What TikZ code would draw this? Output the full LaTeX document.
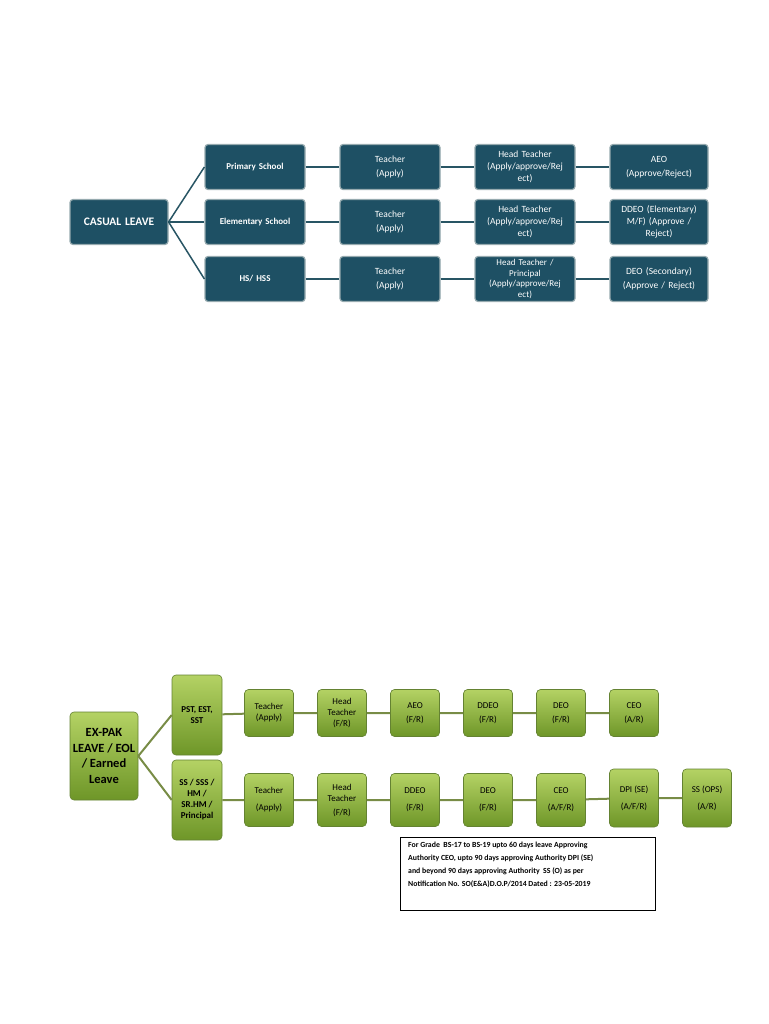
\documentclass[tikz,border=0pt]{standalone}
\usepackage{fontspec}
\setmainfont{Carlito}
\definecolor{tealfill}{RGB}{30,80,100}
\definecolor{tealedge}{RGB}{150,170,175}
\definecolor{tealline}{RGB}{40,85,100}
\definecolor{gtop}{RGB}{180,210,100}
\definecolor{gbot}{RGB}{110,150,40}
\definecolor{gedge}{RGB}{100,130,50}
\definecolor{gline}{RGB}{120,140,70}
\begin{document}
\begin{tikzpicture}[x=1pt,y=-1pt,
  tbox/.style={draw=tealedge,line width=1.2pt,fill=tealfill,rounded corners=3pt,minimum width=100pt,minimum height=45pt,align=center,text=white,font=\fontsize{9.5}{12}\selectfont,inner sep=1pt,text width=96pt},
  gbox/.style={draw=gedge,line width=0.6pt,top color=gtop,bottom color=gbot,rounded corners=4pt,align=center,text=black,font=\bfseries\fontsize{9}{11}\selectfont,inner sep=1pt},
  tline/.style={draw=tealline,line width=1.5pt},
  gln/.style={draw=gline,line width=2pt}]
\useasboundingbox (0,0) rectangle (768,1024);
% top
\node[tbox,minimum width=98pt,text width=96pt,font=\bfseries\fontsize{11.5}{13}\selectfont] (cl) at (119,222) {CASUAL LEAVE};
\node[tbox,font=\bfseries\fontsize{9}{11}\selectfont] (p1) at (255,167) {Primary School};
\node[tbox,font=\bfseries\fontsize{9}{11}\selectfont] (p2) at (255,222) {Elementary School};
\node[tbox,font=\bfseries\fontsize{9}{11}\selectfont] (p3) at (255,279) {HS/ HSS};
\foreach \r/\y in {1/167,2/222,3/279}{
  \node[tbox] (t\r) at (390,\y) {Teacher\\[2pt](Apply)};
}
\node[tbox] (h1) at (525,167) {Head Teacher\\(Apply/approve/Rej\\ect)};
\node[tbox] (h2) at (525,222) {Head Teacher\\(Apply/approve/Rej\\ect)};
\node[tbox,font=\fontsize{9}{10.5}\selectfont] (h3) at (525,279) {Head Teacher /\\Principal\\(Apply/approve/Rej\\ect)};
\node[tbox,minimum width=98pt,text width=94pt] (a1) at (659,167) {AEO\\[2pt](Approve/Reject)};
\node[tbox,minimum width=98pt,text width=94pt] (a2) at (659,222) {DDEO (Elementary)\\M/F) (Approve /\\Reject)};
\node[tbox,minimum width=98pt,text width=94pt] (a3) at (659,279) {DEO (Secondary)\\[2pt](Approve / Reject)};
\foreach \r in {1,2,3}{
  \draw[tline] (cl.east) -- (p\r.west);
  \draw[tline] (p\r) -- (t\r);
  \draw[tline] (t\r) -- (h\r);
  \draw[tline] (h\r) -- (a\r);
}
% bottom
\node[gbox,minimum width=68pt,minimum height=88pt,font=\bfseries\fontsize{12.5}{15.5}\selectfont] (ex) at (104,756) {EX-PAK\\LEAVE / EOL\\/ Earned\\Leave};
\node[gbox,minimum width=50pt,minimum height=80pt] (g1) at (197,715) {PST, EST,\\SST};
\node[gbox,minimum width=50pt,minimum height=80pt] (g2) at (197,800) {SS / SSS /\\HM /\\SR.HM /\\Principal};
\tikzset{cb/.style={gbox,minimum width=49pt,minimum height=47pt,font=\fontsize{9}{11}\selectfont}}
\node[cb] (r1a) at (269,713) {Teacher\\(Apply)};
\node[cb] (r1b) at (342,713) {Head\\Teacher\\(F/R)};
\node[cb] (r1c) at (415,713) {AEO\\[3pt](F/R)};
\node[cb] (r1d) at (488,713) {DDEO\\[3pt](F/R)};
\node[cb] (r1e) at (561,713) {DEO\\[3pt](F/R)};
\node[cb] (r1f) at (634,713) {CEO\\[3pt](A/R)};
\tikzset{cc/.style={cb,minimum height=53pt}}
\node[cc] (r2a) at (269,800) {Teacher\\[6pt](Apply)};
\node[cc] (r2b) at (342,800) {Head\\Teacher\\[3pt](F/R)};
\node[cc] (r2c) at (415,800) {DDEO\\[6pt](F/R)};
\node[cc] (r2d) at (488,800) {DEO\\[6pt](F/R)};
\node[cc] (r2e) at (561,800) {CEO\\[6pt](A/F/R)};
\node[cc,minimum height=58pt] (r2f) at (634,798) {DPI (SE)\\[6pt](A/F/R)};
\node[cc,minimum height=58pt] (r2g) at (707,798) {SS (OPS)\\[6pt](A/R)};
\draw[gln] (ex.east) -- (g1.west);
\draw[gln] (ex.east) -- (g2.west);
\draw[gln] (g1) -- (r1a) -- (r1b) -- (r1c) -- (r1d) -- (r1e) -- (r1f);
\draw[gln] (g2) -- (r2a) -- (r2b) -- (r2c) -- (r2d) -- (r2e) -- (r2f) -- (r2g);
\node[draw,line width=0.6pt,minimum width=255pt,minimum height=73pt,anchor=north west,inner sep=0pt] (note) at (400,837) {};
\node[anchor=north west,align=left,font=\bfseries\fontsize{7.8}{13}\selectfont,inner sep=0pt] (notet) at (408,842) {For Grade\ \ BS-17 to BS-19 upto 60 days leave Approving\\Authority CEO, upto 90 days approving Authority DPI (SE)\\and beyond 90 days approving Authority\ \ SS (O) as per\\Notification No. SO(E\&A)D.O.P/2014 Dated : 23-05-2019};
\end{tikzpicture}
\end{document}
